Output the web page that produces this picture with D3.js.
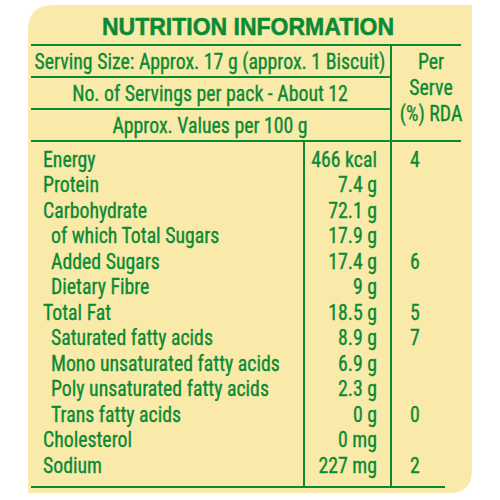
<!DOCTYPE html>
<html><head><meta charset="utf-8">
<script src="https://cdn.jsdelivr.net/npm/d3@7"></script>
<style>body{margin:0;background:#fff}svg{display:block}text{font-family:"Liberation Sans Narrow","Roboto Condensed","DejaVu Sans Condensed",sans-serif;fill:#0b8a35;stroke:#0b8a35;stroke-width:0.35px}</style>
</head><body><svg id="c" width="500" height="500"></svg>
<script>
var nutrients = ["Energy","Protein","Carbohydrate","of which Total Sugars","Added Sugars","Dietary Fibre","Total Fat","Saturated fatty acids","Mono unsaturated fatty acids","Poly unsaturated fatty acids","Trans fatty acids","Cholesterol","Sodium"];
var indent = [0,0,0,1,1,1,0,1,1,1,1,0,0];
var amounts = ["466 kcal","7.4 g","72.1 g","17.9 g","17.4 g","9 g","18.5 g","8.9 g","6.9 g","2.3 g","0 g","0 mg","227 mg"];
var rda = ["4","","","","6","","5","7","","","0","","2"];
var headerRows = ["Serving Size: Approx. 17 g (approx. 1 Biscuit)","No. of Servings per pack - About 12","Approx. Values per 100 g"];

var green = "#0b8a35";
var sx = 0.9; // squeeze text horizontally, the label font is condensed and tall
var svg = d3.select("#c");

svg.append("path")
  .attr("d","M28,493 L28,30 Q28,5 55,5 L472,5 L472,470 Q472,493 450,493 Z")
  .attr("fill","#f9eaa9");

svg.append("text").attr("x",248).attr("y",35).attr("text-anchor","middle")
  .style("font-family","'Liberation Sans','DejaVu Sans',sans-serif")
  .style("font-weight","bold").style("font-size","23px").style("stroke-width","0.5px")
  .text("NUTRITION INFORMATION");

var line = function(x1,y1,x2,y2){
  svg.append("line").attr("x1",x1).attr("y1",y1).attr("x2",x2).attr("y2",y2)
    .attr("stroke",green).attr("stroke-width",2);
};
// text placed at (x,y) but squeezed by sx
function put(sel,x,y,anchor){
  return sel.append("text").attr("transform","translate("+x+","+y+") scale("+sx+",1)")
    .attr("text-anchor",anchor||"start").style("font-size","22px");
}

var hy = d3.scaleBand().domain(d3.range(headerRows.length)).range([45,141]);
line(31,45,461,45);
headerRows.forEach(function(t,i){
  line(31,hy(i)+hy.bandwidth(),391,hy(i)+hy.bandwidth());
  put(svg,210,hy(i)+hy.bandwidth()/2+8,"middle").text(t);
});
line(31,141,461,141);
["Per","Serve","(%) RDA"].forEach(function(t,i){
  put(svg,431,69+i*26,"middle").text(t);
});

var y = d3.scaleBand().domain(d3.range(nutrients.length)).range([146,478]);
line(391,45,391,487);
line(304,141,304,487);
line(31,487,445,487);

nutrients.forEach(function(d,i){
  var by = y(i)+y.bandwidth()-5;
  put(svg,indent[i]?51:43,by).text(d);
  put(svg,377,by,"end").text(amounts[i]);
  if (rda[i]) put(svg,415,by,"middle").text(rda[i]);
});
</script></body></html>
